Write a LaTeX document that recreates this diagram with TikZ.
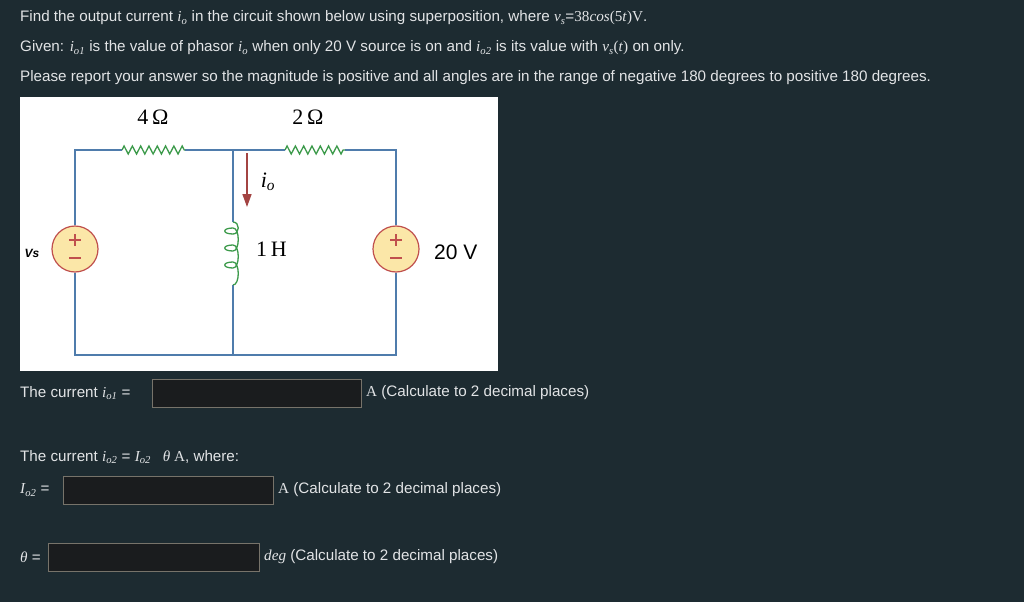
\documentclass[tikz,border=0pt]{standalone}
\usepackage{fontspec}
\setmainfont{Liberation Sans}
\newfontfamily\serifm{Liberation Serif}
\usetikzlibrary{decorations.pathmorphing,arrows.meta,calc}
\definecolor{bg}{HTML}{1D2B31}
\definecolor{txt}{HTML}{E2E4E6}
\definecolor{wire}{HTML}{4F7CAC}
\definecolor{res}{HTML}{3C9A4A}
\definecolor{srcf}{HTML}{FBE7A8}
\definecolor{srcd}{HTML}{C0504D}
\definecolor{boxf}{HTML}{1A1C1E}
\definecolor{boxb}{HTML}{77736A}
\newcommand{\vi}[1]{{\serifm\itshape #1}}
\newcommand{\vsub}[2]{{\serifm\itshape #1\textsubscript{#2}}}
\tikzset{
 t/.style={text=txt,anchor=west,inner sep=0pt,font=\fontsize{15.2}{17}\selectfont},
 c/.style={text=black,inner sep=0pt,font=\serifm\fontsize{22}{24}\selectfont},
 w/.style={draw=wire,line width=1.4pt},
 r/.style={draw=res,line width=1.3pt,decorate,decoration={zigzag,segment length=8.3pt,amplitude=4pt}},
 src/.style={circle,draw=srcd,fill=srcf,line width=1.2pt,minimum size=46pt,inner sep=0pt},
 ans/.style={fill=boxf,draw=boxb,line width=1pt}
}
\begin{document}
\begin{tikzpicture}[x=1pt,y=-1pt]
\fill[bg] (0,0) rectangle (1024,602);
\useasboundingbox (0,0) rectangle (1024,602);
\node[t] (l1) at (20,18) {Find the output current \vsub{i}{o} in the circuit shown below using superposition, where \vsub{v}{s}={\serifm 38\textit{cos}(5\textit{t})V}.};
\node[t] (l2) at (20,48) {Given: \vsub{i}{o1} is the value of phasor \vsub{i}{o} when only 20 V source is on and \vsub{i}{o2} is its value with \vsub{v}{s}{\serifm(\textit{t})} on only.};
\node[t] (l3) at (20,78) {Please report your answer so the magnitude is positive and all angles are in the range of negative 180 degrees to positive 180 degrees.};
\fill[white] (20,97) rectangle (498,371);
% circuit
\coordinate (tl) at (75,150); \coordinate (tm) at (233,150); \coordinate (tr) at (396,150);
\coordinate (bl) at (75,355); \coordinate (bm) at (233,355); \coordinate (br) at (396,355);
\coordinate (r1a) at (122,150); \coordinate (r1b) at (185,150);
\coordinate (r2a) at (285,150); \coordinate (r2b) at (345,150);
\coordinate (la) at (233,222); \coordinate (lb) at (233,285);
\node[src] (vs) at (75,249) {};
\node[src] (v20) at (396,249) {};
\draw[w] (vs.north) -- (tl) -- (r1a) (r1b) -- (r2a) (r2b) -- (tr) -- (v20.north);
\draw[w] (vs.south) -- (bl) -- (br) -- (v20.south);
\draw[w] (tm) -- (la) (lb) -- (bm);
\draw[r] (r1a) -- (r1b);
\draw[r] (r2a) -- (r2b);
\draw[res,line width=1.3pt] (la) .. controls (240,222) and (240,234) .. (233,234)
  .. controls (222,234) and (222,228) .. (233,228)
  .. controls (240,228) and (240,251) .. (233,251)
  .. controls (222,251) and (222,245) .. (233,245)
  .. controls (240,245) and (240,268) .. (233,268)
  .. controls (222,268) and (222,262) .. (233,262)
  .. controls (240,262) and (240,285) .. (lb);
\foreach \s in {vs,v20}{
 \draw[srcd,line width=1.2pt] ($(\s)+(-6,-9)$) -- ++(12,0) ($(\s)+(0,-15)$) -- ++(0,12) ($(\s)+(-6,9)$) -- ++(12,0);}
\coordinate (a1) at (247,153); \coordinate (a2) at (247,207);
\draw[srcd!85!black,line width=1.5pt,-{Triangle[length=13pt,width=9pt]}] (a1) -- (a2);
\node[c] (io) at (268,182) {\textit{i}\textsubscript{\textit{o}}};
\node[c] (n4) at (153,117) {4\,Ω};
\node[c] (n2) at (308,117) {2\,Ω};
\node[c,anchor=west] (nh) at (256,249) {1\,H};
\node[inner sep=0pt,text=black,font=\bfseries\fontsize{12}{14}\selectfont] (nvs) at (32,253) {\textit{Vs}};
\node[inner sep=0pt,text=black,anchor=west,font=\fontsize{21}{23}\selectfont] (n20) at (434,252) {20 V};
% answers
\node[t] (q1) at (20,393) {The current \vsub{i}{o1} =};
\draw[ans] (152,379) rectangle (361,407);
\node[t] (u1) at (366,393) {{\serifm A} (Calculate to 2 decimal places)};
\node[t] (q2) at (20,457) {The current \vsub{i}{o2} = \vsub{I}{o2}{\serifm∠\textit{θ} A}, where:};
\node[t] (q3) at (20,490) {\vsub{I}{o2} =};
\draw[ans] (63,476) rectangle (273,504);
\node[t] (u2) at (278,490) {{\serifm A} (Calculate to 2 decimal places)};
\node[t] (q4) at (20,557) {\vi{θ} =};
\draw[ans] (48,543) rectangle (259,571);
\node[t] (u3) at (264,557) {\vi{deg} (Calculate to 2 decimal places)};
\end{tikzpicture}
\end{document}
